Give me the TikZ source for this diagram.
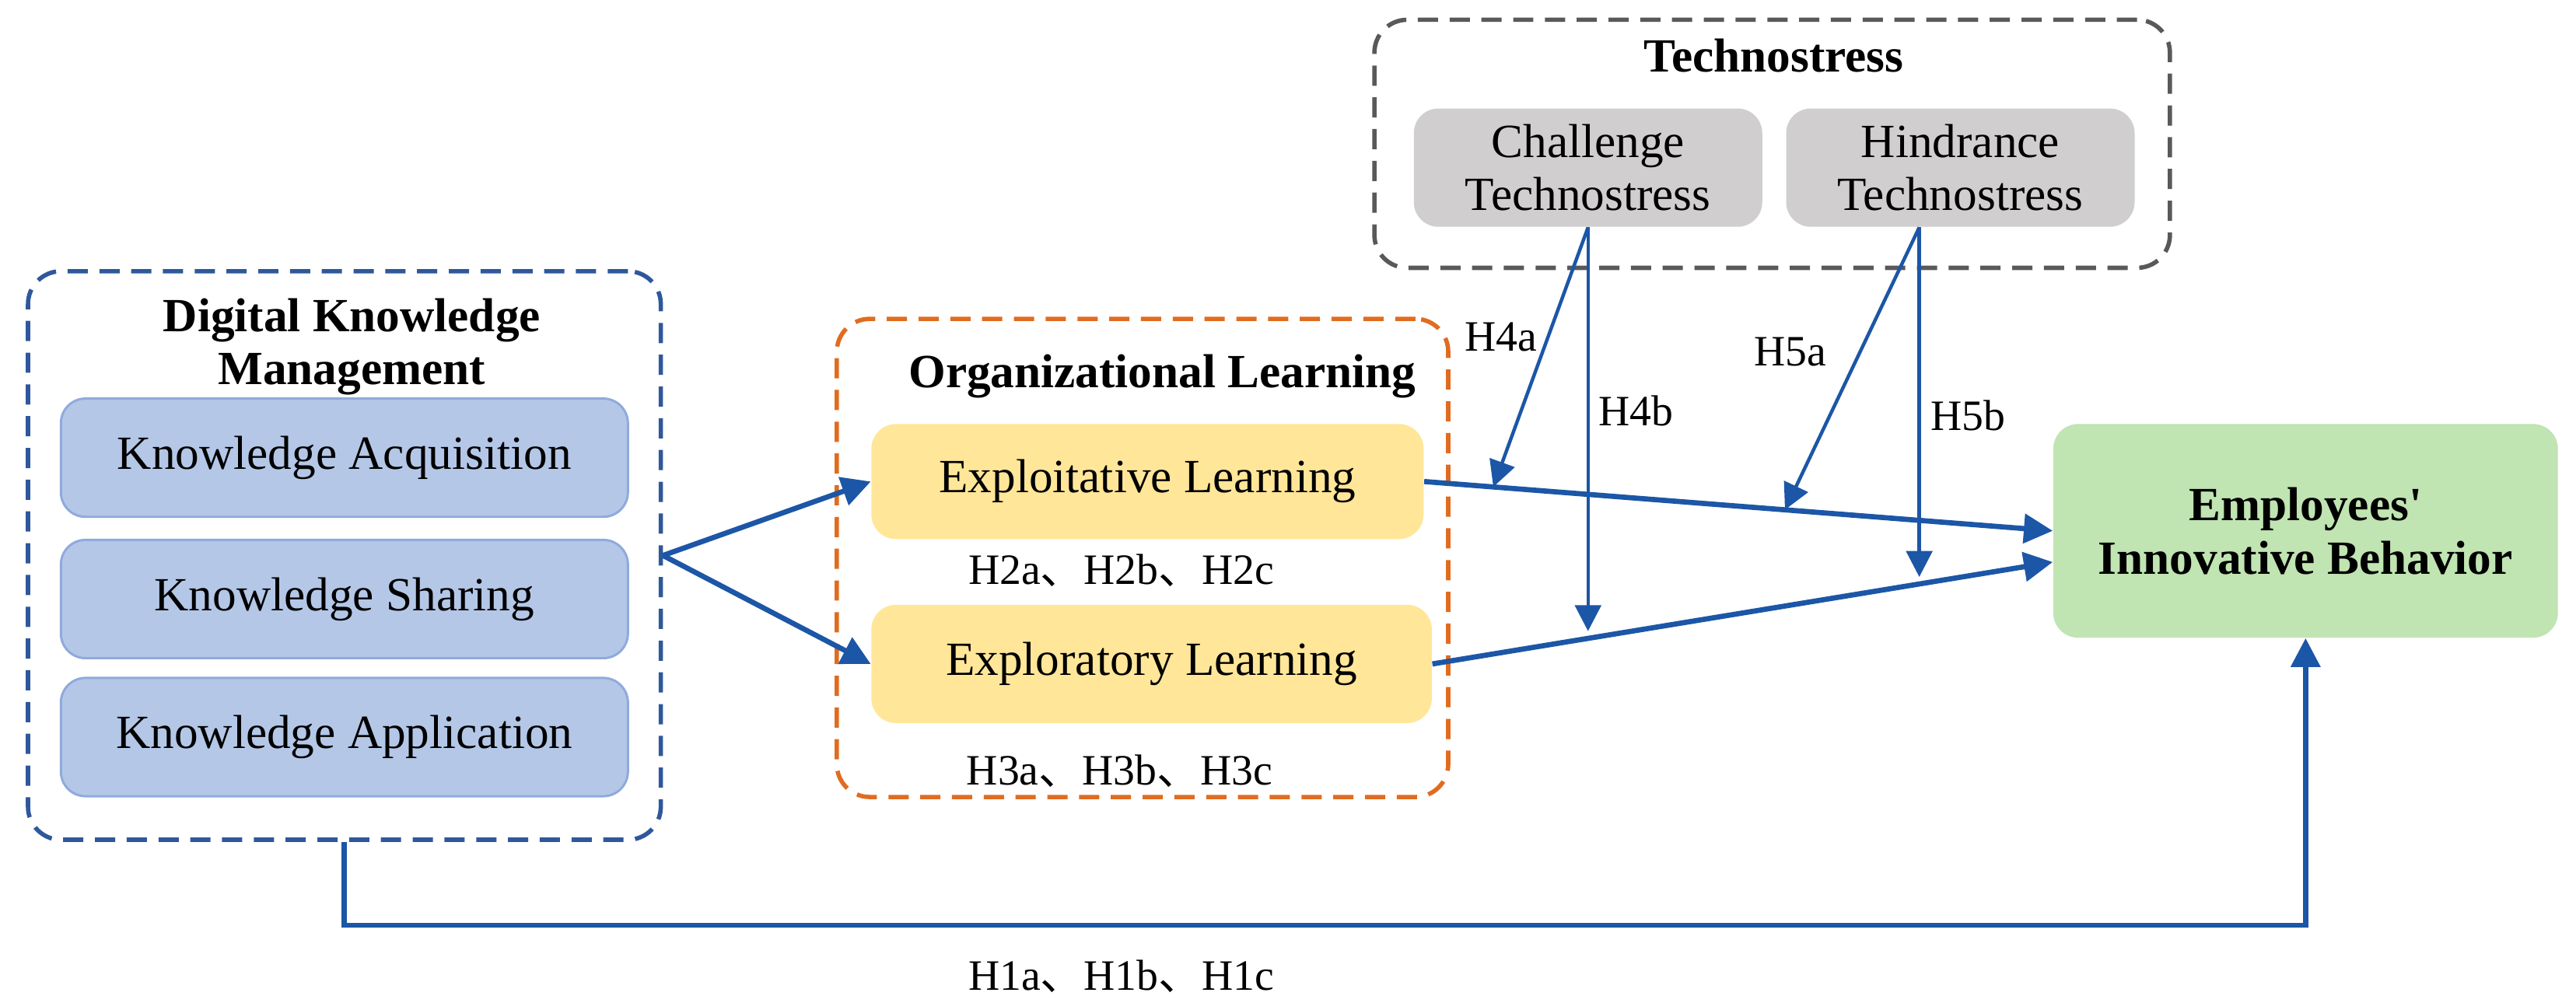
\documentclass[tikz,border=0pt]{standalone}
\usepackage{fontspec}
\setmainfont{Liberation Serif}
\newfontfamily\cjk{Noto Sans CJK SC}
\usetikzlibrary{arrows.meta,calc}
\definecolor{bleu}{RGB}{28,86,166}
\definecolor{bleucadre}{RGB}{47,88,156}
\definecolor{orangecadre}{RGB}{224,108,32}
\definecolor{griscadre}{RGB}{89,89,89}
\definecolor{kfond}{RGB}{180,199,231}
\definecolor{kbord}{RGB}{143,170,220}
\definecolor{jaune}{RGB}{255,230,153}
\definecolor{gris}{RGB}{208,206,206}
\definecolor{vert}{RGB}{192,228,178}
\newcommand{\virg}{{\cjk 、}}

\begin{document}
\begin{tikzpicture}[x=0.02cm,y=-0.02cm,
  every node/.style={font=\fontsize{16.5}{18.5}\selectfont, align=center},
  titre/.style={font=\fontsize{16.5}{18.5}\selectfont\bfseries},
  hyp/.style={font=\fontsize{15}{17}\selectfont},
  cadre/.style={draw, line width=1.5pt, dash pattern=on 7pt off 4pt, rounded corners=0.4cm, inner sep=0pt},
  boite/.style={rounded corners=0.3cm, inner sep=0pt},
  kbox/.style={boite, draw=kbord, fill=kfond, line width=0.8pt, minimum width=6.9cm, minimum height=1.44cm},
  lbox/.style={boite, fill=jaune, minimum width=6.72cm, minimum height=1.4cm},
  tbox/.style={boite, fill=gris, minimum width=4.24cm, minimum height=1.44cm},
  fleche/.style={bleu, line width=1.8pt, -{Triangle[length=10pt,width=10pt]}},
  mod/.style={bleu, line width=1.2pt, -{Triangle[length=9pt,width=9pt]}}]
\useasboundingbox (0,0) rectangle (1567,610);

%cadres
\node[cadre, bleucadre, minimum width=7.7cm, minimum height=6.92cm] (dkm) at (209.5,338) {};
\node[cadre, orangecadre, minimum width=7.44cm, minimum height=5.82cm] (ol) at (695,339.5) {};
\node[cadre, griscadre, minimum width=9.68cm, minimum height=3.02cm] (ts) at (1078,87.5) {};
\node[titre] (dkmt) at (214,211) {Digital Knowledge\\Management};
\node[titre] (olt) at (707,229) {Organizational Learning};
\node[titre] (tst) at (1079,34) {Technostress};
%fin

%boites
\node[kbox] (ka) at (209.5,278.5) {Knowledge Acquisition};
\node[kbox] (ks) at (209.5,364.5) {Knowledge Sharing};
\node[kbox] (kap) at (209.5,448.5) {Knowledge Application};
\node[lbox] (el) at (698,293) {Exploitative Learning};
\node[lbox, minimum width=6.82cm, minimum height=1.44cm] (er) at (700.5,404) {Exploratory Learning};
\node[tbox] (ct) at (966,102) {Challenge\\Technostress};
\node[tbox] (ht) at (1192.5,102) {Hindrance\\Technostress};
\node[boite, fill=vert, titre, minimum width=6.14cm, minimum height=2.6cm] (eib) at (1402.5,323) {Employees\textquotesingle\\Innovative Behavior};
%fin

%hypotheses
\node[hyp] (h1) at (682,594) {H1a\virg H1b\virg H1c};
\node[hyp] (h2) at (682,347) {H2a\virg H2b\virg H2c};
\node[hyp] (h3) at (681,469) {H3a\virg H3b\virg H3c};
\node[hyp] (h4a) at (913,205) {H4a};
\node[hyp] (h4b) at (995,250) {H4b};
\node[hyp] (h5a) at (1089,214) {H5a};
\node[hyp] (h5b) at (1197,253) {H5b};
%fin

%flèches
\coordinate (bas) at (0,563);
\draw[fleche] (dkm.east) -- (el.west);
\draw[fleche] (dkm.east) -- (er.west);
\draw[fleche] (el.east) -- (eib.west);
\draw[fleche] (er.east) -- ($(eib.west)+(0,19)$);
\draw[fleche] (dkm.south) -- (dkm.south |- bas) -- (eib.south |- bas) -- (eib.south);
%fin

%modérateurs
\path (el.east) -- (eib.west) coordinate[pos=0.11] (m4a) coordinate[pos=0.574] (m5a);
\path (er.east) -- ($(eib.west)+(0,19)$) coordinate[pos=0.251] (m4b) coordinate[pos=0.783] (m5b);
\coordinate (hts) at ($(ht.south)+(-25,0)$);
\draw[mod] (ct.south) -- (m4a);
\draw[mod, shorten >=2.5pt] (ct.south) -- (ct.south |- m4b);
\draw[mod] (hts) -- (m5a);
\draw[mod, shorten >=2.5pt] (hts) -- (hts |- m5b);
%fin
\end{tikzpicture}
\end{document}
